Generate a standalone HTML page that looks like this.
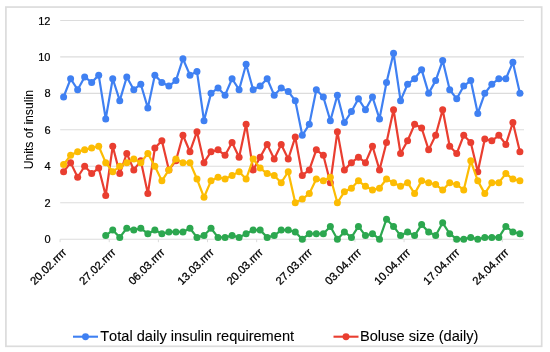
<!DOCTYPE html>
<html><head><meta charset="utf-8"><title>Insulin chart</title>
<style>
html,body{margin:0;padding:0;background:#fff;}
body{width:550px;height:352px;overflow:hidden;}
svg{display:block;}
svg text{font-family:"Liberation Sans",sans-serif;fill:#000;stroke:#000;stroke-width:0.3px;font-kerning:none;}
svg text.lg{stroke-width:0.1px;}
svg text.ti{stroke-width:0.05px;}
svg text.yt{stroke-width:0.2px;}
</style></head><body>
<svg width="550" height="352" viewBox="0 0 550 352">
<rect x="0" y="0" width="550" height="352" fill="#fff"/>
<rect x="5.9" y="7.05" width="535.8" height="339.25" fill="#fff" stroke="#dcdcdc" stroke-width="1.7"/>
<line x1="60.2" y1="239.20" x2="524.0" y2="239.20" stroke="#dcdcdc" stroke-width="1.1"/>
<text x="50.5" y="243.30" font-size="11" text-anchor="end" class="yt">0</text>
<line x1="60.2" y1="202.74" x2="524.0" y2="202.74" stroke="#dcdcdc" stroke-width="1.1"/>
<text x="50.5" y="206.84" font-size="11" text-anchor="end" class="yt">2</text>
<line x1="60.2" y1="166.28" x2="524.0" y2="166.28" stroke="#dcdcdc" stroke-width="1.1"/>
<text x="50.5" y="170.38" font-size="11" text-anchor="end" class="yt">4</text>
<line x1="60.2" y1="129.82" x2="524.0" y2="129.82" stroke="#dcdcdc" stroke-width="1.1"/>
<text x="50.5" y="133.92" font-size="11" text-anchor="end" class="yt">6</text>
<line x1="60.2" y1="93.36" x2="524.0" y2="93.36" stroke="#dcdcdc" stroke-width="1.1"/>
<text x="50.5" y="97.46" font-size="11" text-anchor="end" class="yt">8</text>
<line x1="60.2" y1="56.90" x2="524.0" y2="56.90" stroke="#dcdcdc" stroke-width="1.1"/>
<text x="50.5" y="61.00" font-size="11" text-anchor="end" class="yt">10</text>
<line x1="60.2" y1="20.44" x2="524.0" y2="20.44" stroke="#dcdcdc" stroke-width="1.1"/>
<text x="50.5" y="24.54" font-size="11" text-anchor="end" class="yt">12</text>
<line x1="60.10" y1="239.20" x2="60.10" y2="242.20" stroke="#dcdcdc" stroke-width="1"/>
<line x1="109.24" y1="239.20" x2="109.24" y2="242.20" stroke="#dcdcdc" stroke-width="1"/>
<line x1="158.38" y1="239.20" x2="158.38" y2="242.20" stroke="#dcdcdc" stroke-width="1"/>
<line x1="207.52" y1="239.20" x2="207.52" y2="242.20" stroke="#dcdcdc" stroke-width="1"/>
<line x1="256.66" y1="239.20" x2="256.66" y2="242.20" stroke="#dcdcdc" stroke-width="1"/>
<line x1="305.80" y1="239.20" x2="305.80" y2="242.20" stroke="#dcdcdc" stroke-width="1"/>
<line x1="354.94" y1="239.20" x2="354.94" y2="242.20" stroke="#dcdcdc" stroke-width="1"/>
<line x1="404.08" y1="239.20" x2="404.08" y2="242.20" stroke="#dcdcdc" stroke-width="1"/>
<line x1="453.22" y1="239.20" x2="453.22" y2="242.20" stroke="#dcdcdc" stroke-width="1"/>
<line x1="502.36" y1="239.20" x2="502.36" y2="242.20" stroke="#dcdcdc" stroke-width="1"/>
<text transform="translate(32.9,129.7) rotate(-90)" font-size="12.2" text-anchor="middle" class="ti">Units of insulin</text>
<text transform="translate(67.20,253.00) rotate(-45)" font-size="11.2" text-anchor="end">20.02.rrrr</text>
<text transform="translate(116.34,253.00) rotate(-45)" font-size="11.2" text-anchor="end">27.02.rrrr</text>
<text transform="translate(165.48,253.00) rotate(-45)" font-size="11.2" text-anchor="end">06.03.rrrr</text>
<text transform="translate(214.62,253.00) rotate(-45)" font-size="11.2" text-anchor="end">13.03.rrrr</text>
<text transform="translate(263.76,253.00) rotate(-45)" font-size="11.2" text-anchor="end">20.03.rrrr</text>
<text transform="translate(312.90,253.00) rotate(-45)" font-size="11.2" text-anchor="end">27.03.rrrr</text>
<text transform="translate(362.04,253.00) rotate(-45)" font-size="11.2" text-anchor="end">03.04.rrrr</text>
<text transform="translate(411.18,253.00) rotate(-45)" font-size="11.2" text-anchor="end">10.04.rrrr</text>
<text transform="translate(460.32,253.00) rotate(-45)" font-size="11.2" text-anchor="end">17.04.rrrr</text>
<text transform="translate(509.46,253.00) rotate(-45)" font-size="11.2" text-anchor="end">24.04.rrrr</text>
<g fill="#3f80f2" stroke="none"><polyline points="63.60,97.01 70.62,78.78 77.64,89.71 84.66,76.95 91.68,82.42 98.70,75.13 105.72,118.88 112.74,78.78 119.76,100.65 126.78,76.95 133.80,89.71 140.82,84.24 147.84,107.94 154.86,75.13 161.88,82.42 168.90,86.07 175.92,80.60 182.94,58.72 189.96,75.13 196.98,71.48 204.00,120.70 211.02,93.36 218.04,87.89 225.06,95.18 232.08,78.78 239.10,89.71 246.12,64.19 253.14,89.71 260.16,86.07 267.18,78.78 274.20,95.18 281.22,87.89 288.24,91.54 295.26,100.65 302.28,135.29 309.30,124.35 316.32,89.71 323.34,97.01 330.36,120.70 337.38,95.18 344.40,122.53 351.42,111.59 358.44,98.83 365.46,109.77 372.48,97.01 379.50,118.88 386.52,82.42 393.54,53.25 400.56,100.65 407.58,84.24 414.60,78.78 421.62,69.66 428.64,93.36 435.66,80.60 442.68,60.55 449.70,89.71 456.72,98.83 463.74,86.07 470.76,80.60 477.78,113.41 484.80,93.36 491.82,84.24 498.84,78.78 505.86,78.78 512.88,62.37 519.90,93.36" fill="none" stroke="#3f80f2" stroke-width="2.2" stroke-linejoin="round" stroke-linecap="round"/><circle cx="63.60" cy="97.01" r="3.5"/><circle cx="70.62" cy="78.78" r="3.5"/><circle cx="77.64" cy="89.71" r="3.5"/><circle cx="84.66" cy="76.95" r="3.5"/><circle cx="91.68" cy="82.42" r="3.5"/><circle cx="98.70" cy="75.13" r="3.5"/><circle cx="105.72" cy="118.88" r="3.5"/><circle cx="112.74" cy="78.78" r="3.5"/><circle cx="119.76" cy="100.65" r="3.5"/><circle cx="126.78" cy="76.95" r="3.5"/><circle cx="133.80" cy="89.71" r="3.5"/><circle cx="140.82" cy="84.24" r="3.5"/><circle cx="147.84" cy="107.94" r="3.5"/><circle cx="154.86" cy="75.13" r="3.5"/><circle cx="161.88" cy="82.42" r="3.5"/><circle cx="168.90" cy="86.07" r="3.5"/><circle cx="175.92" cy="80.60" r="3.5"/><circle cx="182.94" cy="58.72" r="3.5"/><circle cx="189.96" cy="75.13" r="3.5"/><circle cx="196.98" cy="71.48" r="3.5"/><circle cx="204.00" cy="120.70" r="3.5"/><circle cx="211.02" cy="93.36" r="3.5"/><circle cx="218.04" cy="87.89" r="3.5"/><circle cx="225.06" cy="95.18" r="3.5"/><circle cx="232.08" cy="78.78" r="3.5"/><circle cx="239.10" cy="89.71" r="3.5"/><circle cx="246.12" cy="64.19" r="3.5"/><circle cx="253.14" cy="89.71" r="3.5"/><circle cx="260.16" cy="86.07" r="3.5"/><circle cx="267.18" cy="78.78" r="3.5"/><circle cx="274.20" cy="95.18" r="3.5"/><circle cx="281.22" cy="87.89" r="3.5"/><circle cx="288.24" cy="91.54" r="3.5"/><circle cx="295.26" cy="100.65" r="3.5"/><circle cx="302.28" cy="135.29" r="3.5"/><circle cx="309.30" cy="124.35" r="3.5"/><circle cx="316.32" cy="89.71" r="3.5"/><circle cx="323.34" cy="97.01" r="3.5"/><circle cx="330.36" cy="120.70" r="3.5"/><circle cx="337.38" cy="95.18" r="3.5"/><circle cx="344.40" cy="122.53" r="3.5"/><circle cx="351.42" cy="111.59" r="3.5"/><circle cx="358.44" cy="98.83" r="3.5"/><circle cx="365.46" cy="109.77" r="3.5"/><circle cx="372.48" cy="97.01" r="3.5"/><circle cx="379.50" cy="118.88" r="3.5"/><circle cx="386.52" cy="82.42" r="3.5"/><circle cx="393.54" cy="53.25" r="3.5"/><circle cx="400.56" cy="100.65" r="3.5"/><circle cx="407.58" cy="84.24" r="3.5"/><circle cx="414.60" cy="78.78" r="3.5"/><circle cx="421.62" cy="69.66" r="3.5"/><circle cx="428.64" cy="93.36" r="3.5"/><circle cx="435.66" cy="80.60" r="3.5"/><circle cx="442.68" cy="60.55" r="3.5"/><circle cx="449.70" cy="89.71" r="3.5"/><circle cx="456.72" cy="98.83" r="3.5"/><circle cx="463.74" cy="86.07" r="3.5"/><circle cx="470.76" cy="80.60" r="3.5"/><circle cx="477.78" cy="113.41" r="3.5"/><circle cx="484.80" cy="93.36" r="3.5"/><circle cx="491.82" cy="84.24" r="3.5"/><circle cx="498.84" cy="78.78" r="3.5"/><circle cx="505.86" cy="78.78" r="3.5"/><circle cx="512.88" cy="62.37" r="3.5"/><circle cx="519.90" cy="93.36" r="3.5"/></g>
<g fill="#e93e30" stroke="none"><polyline points="63.60,171.75 70.62,162.63 77.64,177.22 84.66,166.28 91.68,173.57 98.70,168.10 105.72,195.45 112.74,146.23 119.76,173.57 126.78,153.52 133.80,169.93 140.82,160.81 147.84,193.62 154.86,148.05 161.88,140.76 168.90,169.93 175.92,160.81 182.94,135.29 189.96,151.70 196.98,131.64 204.00,162.63 211.02,151.70 218.04,149.87 225.06,155.34 232.08,142.58 239.10,157.16 246.12,124.35 253.14,169.93 260.16,157.16 267.18,144.40 274.20,158.99 281.22,144.40 288.24,158.99 295.26,137.11 302.28,175.39 309.30,169.93 316.32,149.87 323.34,155.34 330.36,182.69 337.38,131.64 344.40,169.93 351.42,162.63 358.44,157.16 365.46,162.63 372.48,146.23 379.50,169.93 386.52,142.58 393.54,109.77 400.56,153.52 407.58,140.76 414.60,124.35 421.62,128.00 428.64,149.87 435.66,135.29 442.68,109.77 449.70,146.23 456.72,153.52 463.74,135.29 470.76,142.58 477.78,171.75 484.80,138.94 491.82,140.76 498.84,135.29 505.86,144.40 512.88,122.53 519.90,151.70" fill="none" stroke="#e93e30" stroke-width="2.2" stroke-linejoin="round" stroke-linecap="round"/><circle cx="63.60" cy="171.75" r="3.5"/><circle cx="70.62" cy="162.63" r="3.5"/><circle cx="77.64" cy="177.22" r="3.5"/><circle cx="84.66" cy="166.28" r="3.5"/><circle cx="91.68" cy="173.57" r="3.5"/><circle cx="98.70" cy="168.10" r="3.5"/><circle cx="105.72" cy="195.45" r="3.5"/><circle cx="112.74" cy="146.23" r="3.5"/><circle cx="119.76" cy="173.57" r="3.5"/><circle cx="126.78" cy="153.52" r="3.5"/><circle cx="133.80" cy="169.93" r="3.5"/><circle cx="140.82" cy="160.81" r="3.5"/><circle cx="147.84" cy="193.62" r="3.5"/><circle cx="154.86" cy="148.05" r="3.5"/><circle cx="161.88" cy="140.76" r="3.5"/><circle cx="168.90" cy="169.93" r="3.5"/><circle cx="175.92" cy="160.81" r="3.5"/><circle cx="182.94" cy="135.29" r="3.5"/><circle cx="189.96" cy="151.70" r="3.5"/><circle cx="196.98" cy="131.64" r="3.5"/><circle cx="204.00" cy="162.63" r="3.5"/><circle cx="211.02" cy="151.70" r="3.5"/><circle cx="218.04" cy="149.87" r="3.5"/><circle cx="225.06" cy="155.34" r="3.5"/><circle cx="232.08" cy="142.58" r="3.5"/><circle cx="239.10" cy="157.16" r="3.5"/><circle cx="246.12" cy="124.35" r="3.5"/><circle cx="253.14" cy="169.93" r="3.5"/><circle cx="260.16" cy="157.16" r="3.5"/><circle cx="267.18" cy="144.40" r="3.5"/><circle cx="274.20" cy="158.99" r="3.5"/><circle cx="281.22" cy="144.40" r="3.5"/><circle cx="288.24" cy="158.99" r="3.5"/><circle cx="295.26" cy="137.11" r="3.5"/><circle cx="302.28" cy="175.39" r="3.5"/><circle cx="309.30" cy="169.93" r="3.5"/><circle cx="316.32" cy="149.87" r="3.5"/><circle cx="323.34" cy="155.34" r="3.5"/><circle cx="330.36" cy="182.69" r="3.5"/><circle cx="337.38" cy="131.64" r="3.5"/><circle cx="344.40" cy="169.93" r="3.5"/><circle cx="351.42" cy="162.63" r="3.5"/><circle cx="358.44" cy="157.16" r="3.5"/><circle cx="365.46" cy="162.63" r="3.5"/><circle cx="372.48" cy="146.23" r="3.5"/><circle cx="379.50" cy="169.93" r="3.5"/><circle cx="386.52" cy="142.58" r="3.5"/><circle cx="393.54" cy="109.77" r="3.5"/><circle cx="400.56" cy="153.52" r="3.5"/><circle cx="407.58" cy="140.76" r="3.5"/><circle cx="414.60" cy="124.35" r="3.5"/><circle cx="421.62" cy="128.00" r="3.5"/><circle cx="428.64" cy="149.87" r="3.5"/><circle cx="435.66" cy="135.29" r="3.5"/><circle cx="442.68" cy="109.77" r="3.5"/><circle cx="449.70" cy="146.23" r="3.5"/><circle cx="456.72" cy="153.52" r="3.5"/><circle cx="463.74" cy="135.29" r="3.5"/><circle cx="470.76" cy="142.58" r="3.5"/><circle cx="477.78" cy="171.75" r="3.5"/><circle cx="484.80" cy="138.94" r="3.5"/><circle cx="491.82" cy="140.76" r="3.5"/><circle cx="498.84" cy="135.29" r="3.5"/><circle cx="505.86" cy="144.40" r="3.5"/><circle cx="512.88" cy="122.53" r="3.5"/><circle cx="519.90" cy="151.70" r="3.5"/></g>
<g fill="#fcbc03" stroke="none"><polyline points="63.60,164.46 70.62,155.34 77.64,151.70 84.66,149.87 91.68,148.05 98.70,146.23 105.72,162.63 112.74,171.75 119.76,166.28 126.78,162.63 133.80,158.99 140.82,162.63 147.84,153.52 154.86,166.28 161.88,180.86 168.90,169.93 175.92,158.99 182.94,162.63 189.96,162.63 196.98,179.04 204.00,197.27 211.02,180.86 218.04,177.22 225.06,179.04 232.08,175.39 239.10,171.75 246.12,179.04 253.14,158.99 260.16,168.10 267.18,173.57 274.20,175.39 281.22,182.69 288.24,171.75 295.26,202.74 302.28,199.09 309.30,193.62 316.32,179.04 323.34,180.86 330.36,177.22 337.38,202.74 344.40,191.80 351.42,188.16 358.44,180.86 365.46,186.33 372.48,189.98 379.50,188.16 386.52,179.04 393.54,182.69 400.56,186.33 407.58,182.69 414.60,193.62 421.62,180.86 428.64,182.69 435.66,184.51 442.68,189.98 449.70,182.69 456.72,184.51 463.74,189.98 470.76,160.81 477.78,180.86 484.80,193.62 491.82,182.69 498.84,182.69 505.86,173.57 512.88,179.04 519.90,180.86" fill="none" stroke="#fcbc03" stroke-width="2.2" stroke-linejoin="round" stroke-linecap="round"/><circle cx="63.60" cy="164.46" r="3.5"/><circle cx="70.62" cy="155.34" r="3.5"/><circle cx="77.64" cy="151.70" r="3.5"/><circle cx="84.66" cy="149.87" r="3.5"/><circle cx="91.68" cy="148.05" r="3.5"/><circle cx="98.70" cy="146.23" r="3.5"/><circle cx="105.72" cy="162.63" r="3.5"/><circle cx="112.74" cy="171.75" r="3.5"/><circle cx="119.76" cy="166.28" r="3.5"/><circle cx="126.78" cy="162.63" r="3.5"/><circle cx="133.80" cy="158.99" r="3.5"/><circle cx="140.82" cy="162.63" r="3.5"/><circle cx="147.84" cy="153.52" r="3.5"/><circle cx="154.86" cy="166.28" r="3.5"/><circle cx="161.88" cy="180.86" r="3.5"/><circle cx="168.90" cy="169.93" r="3.5"/><circle cx="175.92" cy="158.99" r="3.5"/><circle cx="182.94" cy="162.63" r="3.5"/><circle cx="189.96" cy="162.63" r="3.5"/><circle cx="196.98" cy="179.04" r="3.5"/><circle cx="204.00" cy="197.27" r="3.5"/><circle cx="211.02" cy="180.86" r="3.5"/><circle cx="218.04" cy="177.22" r="3.5"/><circle cx="225.06" cy="179.04" r="3.5"/><circle cx="232.08" cy="175.39" r="3.5"/><circle cx="239.10" cy="171.75" r="3.5"/><circle cx="246.12" cy="179.04" r="3.5"/><circle cx="253.14" cy="158.99" r="3.5"/><circle cx="260.16" cy="168.10" r="3.5"/><circle cx="267.18" cy="173.57" r="3.5"/><circle cx="274.20" cy="175.39" r="3.5"/><circle cx="281.22" cy="182.69" r="3.5"/><circle cx="288.24" cy="171.75" r="3.5"/><circle cx="295.26" cy="202.74" r="3.5"/><circle cx="302.28" cy="199.09" r="3.5"/><circle cx="309.30" cy="193.62" r="3.5"/><circle cx="316.32" cy="179.04" r="3.5"/><circle cx="323.34" cy="180.86" r="3.5"/><circle cx="330.36" cy="177.22" r="3.5"/><circle cx="337.38" cy="202.74" r="3.5"/><circle cx="344.40" cy="191.80" r="3.5"/><circle cx="351.42" cy="188.16" r="3.5"/><circle cx="358.44" cy="180.86" r="3.5"/><circle cx="365.46" cy="186.33" r="3.5"/><circle cx="372.48" cy="189.98" r="3.5"/><circle cx="379.50" cy="188.16" r="3.5"/><circle cx="386.52" cy="179.04" r="3.5"/><circle cx="393.54" cy="182.69" r="3.5"/><circle cx="400.56" cy="186.33" r="3.5"/><circle cx="407.58" cy="182.69" r="3.5"/><circle cx="414.60" cy="193.62" r="3.5"/><circle cx="421.62" cy="180.86" r="3.5"/><circle cx="428.64" cy="182.69" r="3.5"/><circle cx="435.66" cy="184.51" r="3.5"/><circle cx="442.68" cy="189.98" r="3.5"/><circle cx="449.70" cy="182.69" r="3.5"/><circle cx="456.72" cy="184.51" r="3.5"/><circle cx="463.74" cy="189.98" r="3.5"/><circle cx="470.76" cy="160.81" r="3.5"/><circle cx="477.78" cy="180.86" r="3.5"/><circle cx="484.80" cy="193.62" r="3.5"/><circle cx="491.82" cy="182.69" r="3.5"/><circle cx="498.84" cy="182.69" r="3.5"/><circle cx="505.86" cy="173.57" r="3.5"/><circle cx="512.88" cy="179.04" r="3.5"/><circle cx="519.90" cy="180.86" r="3.5"/></g>
<g fill="#2ca74f" stroke="none"><polyline points="105.72,235.55 112.74,230.08 119.76,237.38 126.78,228.26 133.80,230.08 140.82,228.26 147.84,233.73 154.86,230.08 161.88,233.73 168.90,231.91 175.92,231.91 182.94,231.91 189.96,228.26 196.98,237.38 204.00,235.55 211.02,228.26 218.04,237.38 225.06,237.38 232.08,235.55 239.10,237.38 246.12,233.73 253.14,230.08 260.16,230.08 267.18,237.38 274.20,235.55 281.22,230.08 288.24,230.08 295.26,231.91 302.28,239.20 309.30,233.73 316.32,233.73 323.34,233.73 330.36,226.44 337.38,239.20 344.40,231.91 351.42,237.38 358.44,226.44 365.46,235.55 372.48,233.73 379.50,239.20 386.52,219.15 393.54,226.44 400.56,235.55 407.58,231.91 414.60,235.55 421.62,224.62 428.64,231.91 435.66,235.55 442.68,222.79 449.70,233.73 456.72,239.20 463.74,239.20 470.76,237.38 477.78,239.20 484.80,237.38 491.82,237.38 498.84,237.38 505.86,226.44 512.88,231.91 519.90,233.73" fill="none" stroke="#2ca74f" stroke-width="2.2" stroke-linejoin="round" stroke-linecap="round"/><circle cx="105.72" cy="235.55" r="3.5"/><circle cx="112.74" cy="230.08" r="3.5"/><circle cx="119.76" cy="237.38" r="3.5"/><circle cx="126.78" cy="228.26" r="3.5"/><circle cx="133.80" cy="230.08" r="3.5"/><circle cx="140.82" cy="228.26" r="3.5"/><circle cx="147.84" cy="233.73" r="3.5"/><circle cx="154.86" cy="230.08" r="3.5"/><circle cx="161.88" cy="233.73" r="3.5"/><circle cx="168.90" cy="231.91" r="3.5"/><circle cx="175.92" cy="231.91" r="3.5"/><circle cx="182.94" cy="231.91" r="3.5"/><circle cx="189.96" cy="228.26" r="3.5"/><circle cx="196.98" cy="237.38" r="3.5"/><circle cx="204.00" cy="235.55" r="3.5"/><circle cx="211.02" cy="228.26" r="3.5"/><circle cx="218.04" cy="237.38" r="3.5"/><circle cx="225.06" cy="237.38" r="3.5"/><circle cx="232.08" cy="235.55" r="3.5"/><circle cx="239.10" cy="237.38" r="3.5"/><circle cx="246.12" cy="233.73" r="3.5"/><circle cx="253.14" cy="230.08" r="3.5"/><circle cx="260.16" cy="230.08" r="3.5"/><circle cx="267.18" cy="237.38" r="3.5"/><circle cx="274.20" cy="235.55" r="3.5"/><circle cx="281.22" cy="230.08" r="3.5"/><circle cx="288.24" cy="230.08" r="3.5"/><circle cx="295.26" cy="231.91" r="3.5"/><circle cx="302.28" cy="239.20" r="3.5"/><circle cx="309.30" cy="233.73" r="3.5"/><circle cx="316.32" cy="233.73" r="3.5"/><circle cx="323.34" cy="233.73" r="3.5"/><circle cx="330.36" cy="226.44" r="3.5"/><circle cx="337.38" cy="239.20" r="3.5"/><circle cx="344.40" cy="231.91" r="3.5"/><circle cx="351.42" cy="237.38" r="3.5"/><circle cx="358.44" cy="226.44" r="3.5"/><circle cx="365.46" cy="235.55" r="3.5"/><circle cx="372.48" cy="233.73" r="3.5"/><circle cx="379.50" cy="239.20" r="3.5"/><circle cx="386.52" cy="219.15" r="3.5"/><circle cx="393.54" cy="226.44" r="3.5"/><circle cx="400.56" cy="235.55" r="3.5"/><circle cx="407.58" cy="231.91" r="3.5"/><circle cx="414.60" cy="235.55" r="3.5"/><circle cx="421.62" cy="224.62" r="3.5"/><circle cx="428.64" cy="231.91" r="3.5"/><circle cx="435.66" cy="235.55" r="3.5"/><circle cx="442.68" cy="222.79" r="3.5"/><circle cx="449.70" cy="233.73" r="3.5"/><circle cx="456.72" cy="239.20" r="3.5"/><circle cx="463.74" cy="239.20" r="3.5"/><circle cx="470.76" cy="237.38" r="3.5"/><circle cx="477.78" cy="239.20" r="3.5"/><circle cx="484.80" cy="237.38" r="3.5"/><circle cx="491.82" cy="237.38" r="3.5"/><circle cx="498.84" cy="237.38" r="3.5"/><circle cx="505.86" cy="226.44" r="3.5"/><circle cx="512.88" cy="231.91" r="3.5"/><circle cx="519.90" cy="233.73" r="3.5"/></g>
<line x1="73" y1="336.7" x2="98" y2="336.7" stroke="#3f80f2" stroke-width="2.1"/><circle cx="85.5" cy="336.7" r="3.45" fill="#3f80f2"/><text x="100.2" y="340.9" font-size="14.6" class="lg">Total daily insulin requirement</text>
<line x1="333.5" y1="336.7" x2="358.5" y2="336.7" stroke="#e93e30" stroke-width="2.1"/><circle cx="346.0" cy="336.7" r="3.45" fill="#e93e30"/><text x="360" y="340.9" font-size="14.6" class="lg">Boluse size (daily)</text>
</svg>
</body></html>
